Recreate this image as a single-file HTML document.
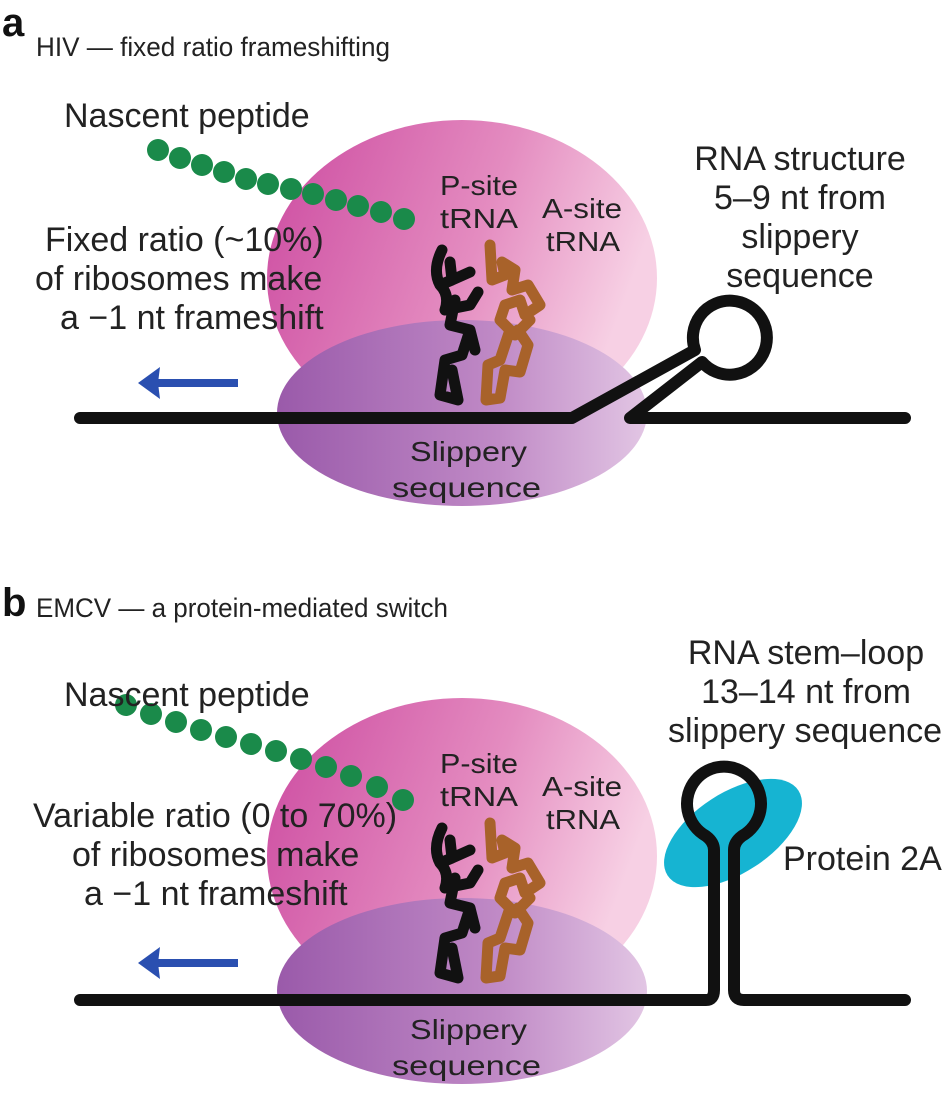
<!DOCTYPE html>
<html><head><style>
body{margin:0;background:#fff}
svg text{font-family:"Liberation Sans",Arial,sans-serif;fill:#222}
</style></head><body>
<svg width="946" height="1094" viewBox="0 0 946 1094" xmlns="http://www.w3.org/2000/svg">
<defs>
<linearGradient id="pk" x1="0" y1="0" x2="1" y2="0.3">
<stop offset="0" stop-color="#cc4aa0"/><stop offset="0.6" stop-color="#e48cc0"/><stop offset="1" stop-color="#f7d0e4"/></linearGradient>
<linearGradient id="pu" x1="0" y1="0" x2="1" y2="0">
<stop offset="0" stop-color="#9a5aaa"/><stop offset="0.6" stop-color="#c08ac6"/><stop offset="1" stop-color="#e2c6e4"/></linearGradient>
<g id="trna" fill="none" stroke-width="11" stroke-linejoin="round" stroke-linecap="round">
<path stroke="#111" d="M442 250 Q432 270 440 285 L452 280 L450 262 M452 280 L470 272 M440 285 Q450 295 445 310 L470 305 L478 292 M455 300 L450 325 L470 330 L462 355 L445 360 L440 395 L458 400 L452 370 M470 330 L475 350"/>
<path stroke="#a8622a" d="M490 245 L492 280 L505 275 L502 262 L515 270 L512 290 L528 285 L540 305 L525 315 L520 300 L505 305 L500 320 L515 335 L530 320 M510 330 L500 360 L488 365 L486 400 L500 398 L505 370 L520 372 L528 345 L518 330"/>
</g>
</defs>

<!-- Panel a -->
<text x="2" y="36" font-size="40" font-weight="bold" style="fill:#111">a</text>
<text x="36" y="56" font-size="27" textLength="354" lengthAdjust="spacingAndGlyphs">HIV — fixed ratio frameshifting</text>
<ellipse cx="462" cy="278" rx="195" ry="158" fill="url(#pk)"/>
<ellipse cx="462" cy="413" rx="185" ry="93" fill="url(#pu)"/>
<g fill="#1a8a4a">
<circle cx="158" cy="150" r="11"/><circle cx="180" cy="158" r="11"/><circle cx="202" cy="165" r="11"/><circle cx="224" cy="172" r="11"/><circle cx="246" cy="179" r="11"/><circle cx="268" cy="184" r="11"/><circle cx="291" cy="189" r="11"/><circle cx="313" cy="194" r="11"/><circle cx="336" cy="200" r="11"/><circle cx="358" cy="206" r="11"/><circle cx="381" cy="212" r="11"/><circle cx="404" cy="219" r="11"/>
</g>
<use href="#trna"/>
<text x="440" y="195" font-size="28" textLength="78" lengthAdjust="spacingAndGlyphs">P-site</text>
<text x="440" y="228" font-size="28" textLength="78" lengthAdjust="spacingAndGlyphs">tRNA</text>
<text x="542" y="218" font-size="28" textLength="80" lengthAdjust="spacingAndGlyphs">A-site</text>
<text x="546" y="251" font-size="28" textLength="74" lengthAdjust="spacingAndGlyphs">tRNA</text>
<text x="64" y="127" font-size="34">Nascent peptide</text>
<text x="45" y="251" font-size="34">Fixed ratio (~10%)</text>
<text x="35" y="290" font-size="34">of ribosomes make</text>
<text x="60" y="329" font-size="34">a −1 nt frameshift</text>
<g font-size="34" text-anchor="middle">
<text x="800" y="170">RNA structure</text>
<text x="800" y="209">5–9 nt from</text>
<text x="800" y="248">slippery</text>
<text x="800" y="287">sequence</text>
</g>
<path d="M238 383 H150" stroke="#2a4fb0" stroke-width="8"/>
<path d="M138 383 L160 367 L158 383 L160 399 Z" fill="#2a4fb0"/>
<g fill="none" stroke="#111" stroke-width="12" stroke-linecap="round" stroke-linejoin="round">
<path d="M80 418 H572 L695 350 A37 37 0 1 1 702 362 L630 418 H905"/>
</g>
<text x="410" y="461" font-size="28" textLength="117" lengthAdjust="spacingAndGlyphs">Slippery</text>
<text x="392" y="497" font-size="28" textLength="149" lengthAdjust="spacingAndGlyphs">sequence</text>

<!-- Panel b -->
<text x="2" y="616" font-size="40" font-weight="bold" style="fill:#111">b</text>
<text x="36" y="617" font-size="27" textLength="412" lengthAdjust="spacingAndGlyphs">EMCV — a protein-mediated switch</text>
<ellipse cx="462" cy="856" rx="195" ry="158" fill="url(#pk)"/>
<ellipse cx="462" cy="991" rx="185" ry="93" fill="url(#pu)"/>
<g fill="#1a8a4a">
<circle cx="126" cy="705" r="11"/><circle cx="151" cy="714" r="11"/><circle cx="176" cy="722" r="11"/><circle cx="201" cy="730" r="11"/><circle cx="226" cy="737" r="11"/><circle cx="251" cy="744" r="11"/><circle cx="276" cy="751" r="11"/><circle cx="301" cy="759" r="11"/><circle cx="326" cy="767" r="11"/><circle cx="351" cy="776" r="11"/><circle cx="377" cy="787" r="11"/><circle cx="403" cy="800" r="11"/>
</g>
<use href="#trna" transform="translate(0,578)"/>
<text x="440" y="773" font-size="28" textLength="78" lengthAdjust="spacingAndGlyphs">P-site</text>
<text x="440" y="806" font-size="28" textLength="78" lengthAdjust="spacingAndGlyphs">tRNA</text>
<text x="542" y="796" font-size="28" textLength="80" lengthAdjust="spacingAndGlyphs">A-site</text>
<text x="546" y="829" font-size="28" textLength="74" lengthAdjust="spacingAndGlyphs">tRNA</text>
<text x="64" y="706" font-size="34">Nascent peptide</text>
<text x="33" y="827" font-size="34">Variable ratio (0 to 70%)</text>
<text x="72" y="866" font-size="34">of ribosomes make</text>
<text x="84" y="905" font-size="34">a −1 nt frameshift</text>
<g font-size="34" text-anchor="middle">
<text x="806" y="664">RNA stem–loop</text>
<text x="806" y="703">13–14 nt from</text>
<text x="805" y="742">slippery sequence</text>
</g>
<ellipse cx="733" cy="833" rx="78" ry="40" transform="rotate(-33 733 833)" fill="#16b4d2"/>
<text x="783" y="870" font-size="34">Protein 2A</text>
<path d="M238 963 H150" stroke="#2a4fb0" stroke-width="8"/>
<path d="M138 963 L160 947 L158 963 L160 979 Z" fill="#2a4fb0"/>
<g fill="none" stroke="#111" stroke-width="12" stroke-linecap="round" stroke-linejoin="round">
<path d="M80 1000 H706 Q714 1000 714 990 V850 Q714 842 706 836 A37 37 0 1 1 742 836 Q734 842 734 850 V990 Q734 1000 744 1000 H905"/>
</g>
<text x="410" y="1039" font-size="28" textLength="117" lengthAdjust="spacingAndGlyphs">Slippery</text>
<text x="392" y="1075" font-size="28" textLength="149" lengthAdjust="spacingAndGlyphs">sequence</text>
</svg>
</body></html>
